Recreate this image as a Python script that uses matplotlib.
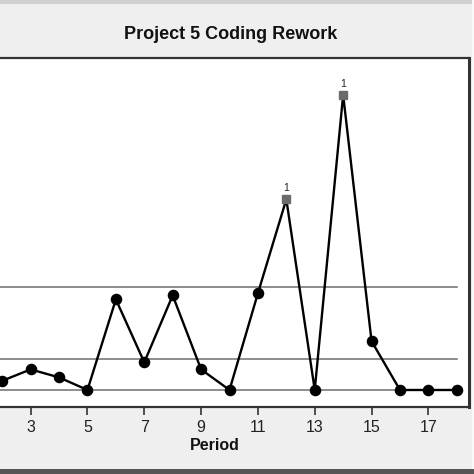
import matplotlib
matplotlib.use("Agg")
import matplotlib.pyplot as plt
import numpy as np

periods = list(range(1, 19))
values = [0.45, 0.30, 0.67, 0.41, 0.0, 2.95, 0.90, 3.08, 0.67, 0.0,
          3.15, 6.21, 0.0, 9.61, 1.59, 0.0, 0.0, 0.0]
center_line = 1.0
ucl = 3.35
lcl = 0.0
flagged = [12, 14]
flag_text = "1"
xticks = [3, 5, 7, 9, 11, 13, 15, 17]
title = "Project 5 Coding Rework"
xlabel = "Period"

plt.rcParams['font.family'] = ['Liberation Sans', 'DejaVu Sans']

W = H = 474
fig = plt.figure(figsize=(4.74, 4.74), dpi=100, facecolor='#efefef')

# decorative frame bands
fig.patches.append(plt.Rectangle((0, 1 - 3.5 / H), 1, 3.5 / H, transform=fig.transFigure,
                                 facecolor='#d0d0d0', edgecolor='none', zorder=0))
fig.patches.append(plt.Rectangle((0, 0), 1, 5 / H, transform=fig.transFigure,
                                 facecolor='#555555', edgecolor='none', zorder=0))
fig.patches.append(plt.Rectangle((1 - 2.5 / W, 5 / H), 2.5 / W, 1, transform=fig.transFigure,
                                 facecolor='#f9f9f9', edgecolor='none', zorder=0))

left_px, right_px, top_px, bottom_px = -38.4, 469, 58, 407
ax = fig.add_axes([left_px / W, 1 - bottom_px / H, (right_px - left_px) / W, (bottom_px - top_px) / H])
ax.set_facecolor('white')

x = np.array(periods)
y = np.array(values)

for lvl in (ucl, center_line, lcl):
    ax.plot([periods[0], periods[-1]], [lvl, lvl], color='#7a7a7a', lw=1.2, zorder=1)

ax.plot(x, y, color='black', lw=1.7, zorder=2)
normal = [p not in flagged for p in periods]
ax.plot(x[normal], y[normal], 'o', color='black', ms=7.3, zorder=3)
fl = [p in flagged for p in periods]
ax.plot(x[fl], y[fl], 's', color='#6b6b6b', ms=6.0, zorder=3)
for p in flagged:
    ax.annotate(flag_text, (p, values[p - 1]), xytext=(0, 4.5), textcoords='offset points',
                ha='center', va='bottom', fontsize=7.5, color='#222222')

ax.set_xlim(0.57, 18.43)
ax.set_ylim(-0.554, 10.81)
ax.set_xticks(xticks)
ax.set_xticklabels([str(t) for t in xticks], fontsize=11.5, color='#222222')
ax.tick_params(axis='x', direction='out', length=6, width=1.2, color='#333333', pad=3)
ax.set_yticks([])
for s in ax.spines.values():
    s.set_color('#333333')
    s.set_linewidth(1.6)
ax.spines['right'].set_linewidth(2.2)

fig.text(215 / W, 1 - 445 / H, xlabel, ha='center', va='center', fontsize=11.5,
         fontweight='bold', color='#111111')
fig.text(231 / W, 1 - 34.5 / H, title, ha='center', va='center', fontsize=13,
         fontweight='bold', color='#111111')

fig.savefig('out.png', dpi=100, facecolor=fig.get_facecolor())
